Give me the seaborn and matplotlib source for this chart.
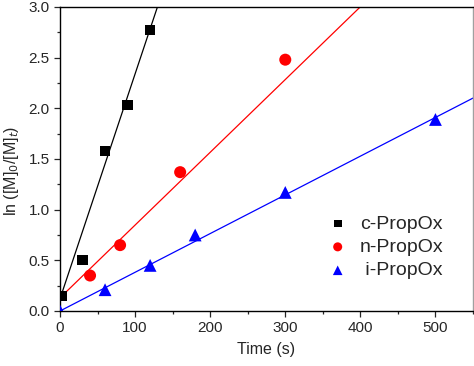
import numpy as np
import pandas as pd
import seaborn as sns
import matplotlib.pyplot as plt
from matplotlib.ticker import MultipleLocator

# data
c_time = [3, 30, 60, 90, 120]
c_lnm = [0.15, 0.50, 1.58, 2.03, 2.77]
n_time = [40, 80, 160, 300]
n_lnm = [0.35, 0.65, 1.37, 2.48]
i_time = [0, 60, 120, 180, 300, 500]
i_lnm = [0.0, 0.21, 0.45, 0.75, 1.17, 1.89]

# linear fits (slope, intercept) as drawn in the figure
fits = {"c-PropOx": (0.0222, 0.12), "n-PropOx": (0.00718, 0.13), "i-PropOx": (0.00382, 0.0)}

names = ["c-PropOx", "n-PropOx", "i-PropOx"]
labels = {"c-PropOx": "c-PropOx", "n-PropOx": "n-PropOx", "i-PropOx": " i-PropOx"}
colors = {"c-PropOx": "black", "n-PropOx": "#ff0000", "i-PropOx": "#0000ff"}
markers = {"c-PropOx": "s", "n-PropOx": "o", "i-PropOx": "^"}
sizes = {"c-PropOx": 55, "n-PropOx": 75, "i-PropOx": 85}

df = pd.concat([
    pd.DataFrame({"time": c_time, "lnm": c_lnm, "sample": "c-PropOx"}),
    pd.DataFrame({"time": n_time, "lnm": n_lnm, "sample": "n-PropOx"}),
    pd.DataFrame({"time": i_time, "lnm": i_lnm, "sample": "i-PropOx"}),
])

sns.set_style("ticks")
plt.rcParams['font.family'] = ['Liberation Sans', 'DejaVu Sans']

fig = plt.figure(figsize=(4.74, 3.66), dpi=100)
ax = fig.add_axes([0.1266, 0.1503, 0.8713, 0.8306])

# fit lines
xfit = np.linspace(0, 550, 200)
for name in names:
    k, b = fits[name]
    sns.lineplot(x=xfit, y=k * xfit + b, color=colors[name], lw=0.9, ax=ax, legend=False)

for name in names:
    sub = df[df["sample"] == name]
    sns.scatterplot(data=sub, x="time", y="lnm", color=colors[name], marker=markers[name],
                    s=sizes[name], edgecolor="none", ax=ax, label=labels[name], zorder=3)

ax.set_xlim(0, 550)
ax.set_ylim(0, 3.0)
ax.xaxis.set_major_locator(MultipleLocator(100))
ax.xaxis.set_minor_locator(MultipleLocator(50))
ax.yaxis.set_major_locator(MultipleLocator(0.5))
ax.yaxis.set_minor_locator(MultipleLocator(0.25))
ax.yaxis.set_major_formatter(plt.FormatStrFormatter("%.1f"))
ax.tick_params(axis='both', which='major', direction='out', length=4, labelsize=11, width=0.9)
ax.tick_params(axis='both', which='minor', direction='out', length=2.5, width=0.9)
ax.tick_params(top=False, right=False, which='both')
for sp in ["left", "bottom", "top"]:
    ax.spines[sp].set_color("black")
    ax.spines[sp].set_linewidth(1.0)
ax.spines["right"].set_color("#a0a0a0")
ax.spines["right"].set_linewidth(1.0)

ax.set_xlabel("Time (s)", fontsize=11.5, labelpad=5)
ax.set_ylabel(r"ln ([M]$_0$/[M]$_t$)", fontsize=11.5, labelpad=3)
ax.yaxis.set_label_coords(-0.095, 0.46)

ax.legend(loc="center left", bbox_to_anchor=(0.63, 0.21), borderaxespad=0, frameon=False,
          fontsize=14, handlelength=1.0, handletextpad=0.63, labelspacing=0.3, markerscale=0.75)

plt.savefig("out.png", dpi=100)
